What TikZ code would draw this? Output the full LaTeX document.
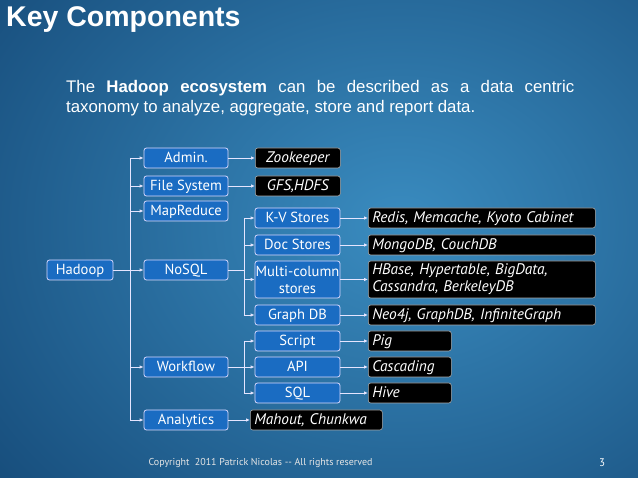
\documentclass[tikz,border=0pt]{standalone}
\usepackage{fontspec}
\setmainfont{Liberation Sans}
\newfontfamily\boxfont{PT Sans}
\usetikzlibrary{arrows.meta}
\begin{document}
\begin{tikzpicture}[x=1pt,y=-1pt,
  bb/.style={draw=white!85!blue,line width=0.8pt,fill=blue1,rounded corners=2.5pt,text=white,font=\boxfont\fontsize{14.6}{15}\selectfont,align=center,inner sep=0pt},
  kb/.style={draw=gray!70,line width=0.6pt,fill=black,rounded corners=2.5pt,text=white,font=\boxfont\itshape\fontsize{15.3}{15}\selectfont,align=left,inner sep=0pt,anchor=west},
  one/.style={text height=10pt,text depth=0pt},
  ln/.style={draw=white!90!blue,line width=0.9pt},
  ar/.style={ln,-{Latex[length=4pt,width=3.5pt]}}]
\definecolor{blue1}{HTML}{1A6CC2}
\definecolor{bgdark}{HTML}{0E3D6A}
\definecolor{bglight}{HTML}{3A8CC0}
\useasboundingbox (0,0) rectangle (638,478);
\shade[inner color=bglight,outer color=bgdark] (-250,-300) rectangle (1050,750);
\node[anchor=west,text=white,font=\bfseries\fontsize{28.5}{30}\selectfont,inner sep=0pt] (title) at (6,20) {Key Components};
\node[anchor=north west,text=white,text width=508pt,align=justify,font=\fontsize{16.8}{20}\selectfont,inner sep=0pt] (txt) at (66,80) {The \textbf{Hadoop ecosystem} can be described as a data centric \mbox{taxonomy} to analyze, aggregate, store and report data.};
% level 0/1
\node[bb,one,minimum width=66pt,minimum height=20pt] (hadoop) at (80,270) {Hadoop};
\foreach \n/\t/\y in {admin/Admin./158,fs/File System/186,mr/MapReduce/211,nosql/NoSQL/270,wf/Workflow/367,an/Analytics/420}
  \node[bb,one,minimum width=84pt,minimum height=20pt] (\n) at (186,\y) {\t};
% level 2
\node[kb,one,minimum width=85pt,minimum height=20pt,align=center] (zk) at (255,158) {Zookeeper};
\node[kb,one,minimum width=85pt,minimum height=20pt,align=center] (gfs) at (255,186) {GFS,HDFS};
\foreach \n/\t/\y in {kv/K-V Stores/218,doc/Doc Stores/245,graph/Graph DB/315,script/Script/341,api/API/367,sql/SQL/393}
  \node[bb,one,minimum width=85pt,minimum height=20pt] (\n) at (297.5,\y) {\t};
\node[bb,minimum width=85pt,minimum height=37pt] (multi) at (297.5,279.5) {\rule{0pt}{8pt}Multi-column\\[2pt]stores\rule[1pt]{0pt}{3pt}};
% level 3
\node[kb,one,minimum width=227pt,minimum height=20pt,text width=219pt,inner xsep=4pt] (kv3) at (368,218) {Redis, Memcache, Kyoto Cabinet};
\node[kb,one,minimum width=227pt,minimum height=20pt,text width=219pt,inner xsep=4pt] (doc3) at (368,245) {MongoDB, CouchDB};
\node[kb,minimum width=227pt,minimum height=37pt,text width=219pt,inner xsep=4pt] (multi3) at (368,279.5) {\rule{0pt}{8pt}HBase, Hypertable, BigData,\\[2pt]Cassandra, BerkeleyDB\rule[1pt]{0pt}{3pt}};
\node[kb,one,minimum width=227pt,minimum height=20pt,text width=219pt,inner xsep=4pt] (graph3) at (368,315) {Neo4j, GraphDB, InfiniteGraph};
\foreach \n/\t/\y in {pig/Pig/341,casc/Cascading/367,hive/Hive/393}
  \node[kb,one,minimum width=83pt,minimum height=20pt,text width=75pt,inner xsep=4pt] (\n) at (368,\y) {\t};
\node[kb,one,minimum width=132pt,minimum height=20pt,text width=124pt,inner xsep=4pt] (mahout) at (250,420) {Mahout, Chunkwa};
% connectors
\coordinate (t0) at (130,270);
\draw[ln] (hadoop) -- (t0);
\draw[ln] (130,158) -- (130,420);
\foreach \n in {admin,fs,mr,nosql,wf,an} \draw[ar] (\n.west -| t0) -- (\n.west);
\coordinate (t1) at (244,270);
\draw[ln] (nosql) -- (t1);
\draw[ln] (244,218) -- (244,315);
\foreach \n in {kv,doc,multi,graph} \draw[ar] (\n.west -| t1) -- (\n.west);
\draw[ln] (wf) -- (244,367);
\draw[ln] (244,341) -- (244,393);
\foreach \n in {script,api,sql} \draw[ar] (\n.west -| t1) -- (\n.west);
\draw[ar] (admin) -- (zk);
\draw[ar] (fs) -- (gfs);
\draw[ar] (kv) -- (kv3);
\draw[ar] (doc) -- (doc3);
\draw[ar] (multi) -- (multi3);
\draw[ar] (graph) -- (graph3);
\draw[ar] (script) -- (pig);
\draw[ar] (api) -- (casc);
\draw[ar] (sql) -- (hive);
\draw[ar] (an) -- (mahout);
% footer
\node[anchor=west,text=white!80!gray,font=\boxfont\fontsize{10}{11}\selectfont] (copy) at (145,463) {Copyright \ 2011 Patrick Nicolas -- All rights reserved};
\node[text=white,font=\boxfont\fontsize{11}{12}\selectfont] (pg) at (602,463) {3};
\end{tikzpicture}
\end{document}
